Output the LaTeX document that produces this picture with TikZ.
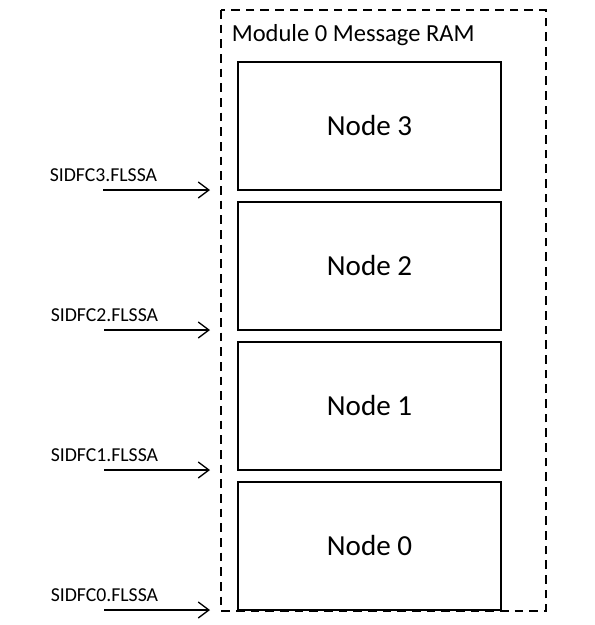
\documentclass[tikz,border=0pt]{standalone}
\usepackage{fontspec}
\setmainfont{Carlito}
\usetikzlibrary{arrows.meta}
\begin{document}
\begin{tikzpicture}[x=0.75pt,y=-0.75pt,line width=1.2pt,
  ramnode/.style={draw,minimum width=197.25pt,minimum height=96pt,inner sep=0pt,font=\fontsize{21.8}{24}\selectfont},
  regname/.style={anchor=west,inner sep=0pt,font=\fontsize{14.8}{17}\selectfont},
  ptr/.style={-{Straight Barb[length=8pt,width=12pt]},line width=1pt}]

\useasboundingbox (0,0) rectangle (594,625);
\draw[dash pattern=on 6.5pt off 4.5pt] (221,10) rectangle (546,611);
\node[anchor=west,inner sep=0pt,font=\fontsize{18.4}{21}\selectfont] (title) at (231,35) {Module 0 Message RAM};

\node[ramnode] (n3) at (369.5,126) {Node 3};
\node[ramnode] (n2) at (369.5,266) {Node 2};
\node[ramnode] (n1) at (369.5,406) {Node 1};
\node[ramnode] (n0) at (369.5,546) {Node 0};

\node[regname] (r3) at (49,175) {SIDFC3.FLSSA};
\node[regname] (r2) at (50,315) {SIDFC2.FLSSA};
\node[regname] (r1) at (50,455) {SIDFC1.FLSSA};
\node[regname] (r0) at (50,595) {SIDFC0.FLSSA};

\coordinate (s3) at (103,190); \coordinate (e3) at (210,190);
\coordinate (s2) at (104,330); \coordinate (e2) at (210,330);
\coordinate (s1) at (104,470); \coordinate (e1) at (210,470);
\coordinate (s0) at (104,610); \coordinate (e0) at (210,610);
\draw[ptr] (s3) -- (e3);
\draw[ptr] (s2) -- (e2);
\draw[ptr] (s1) -- (e1);
\draw[ptr] (s0) -- (e0);

\end{tikzpicture}
\end{document}
